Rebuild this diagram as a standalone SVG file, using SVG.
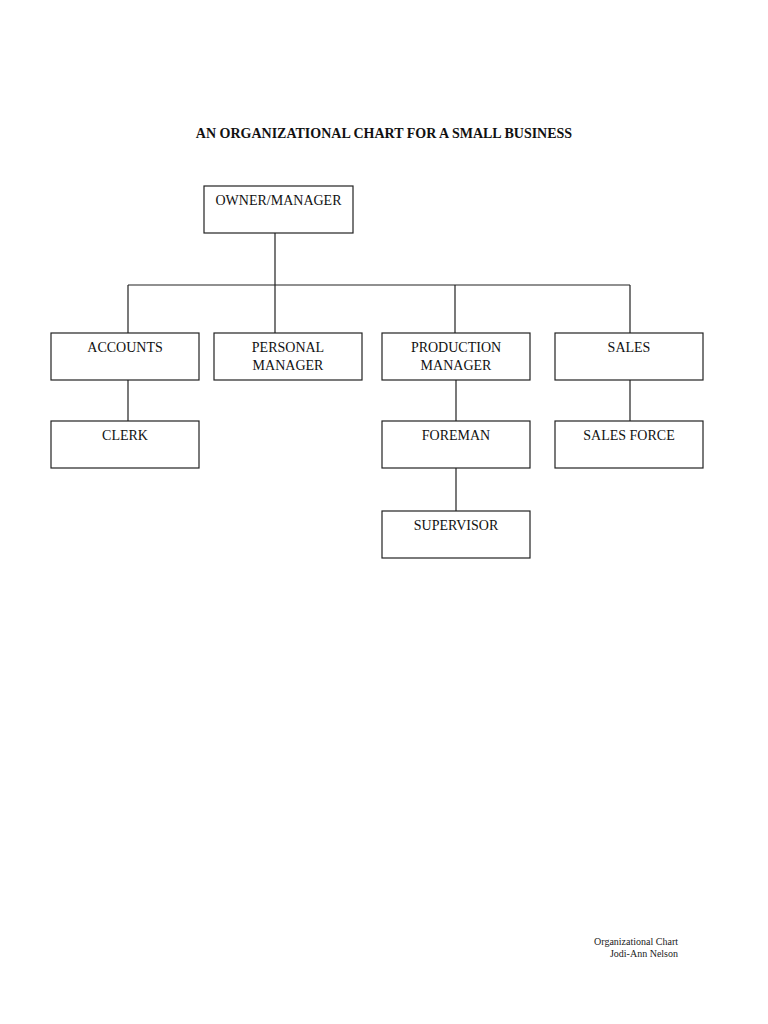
<svg xmlns="http://www.w3.org/2000/svg" width="768" height="1024" viewBox="0 0 768 1024">
<style>
.box{fill:#fff;stroke:#222;stroke-width:1.2}
.t{font-family:"Liberation Serif",serif;font-size:14px;fill:#111;text-anchor:middle}
.c{fill:none;stroke:#222;stroke-width:1.2}
.f{font-family:"Liberation Serif",serif;font-size:10px;fill:#222;text-anchor:end}
</style>
<rect width="768" height="1024" fill="#fff"/>
<text x="384" y="138" font-family="Liberation Serif,serif" font-size="14" font-weight="bold" text-anchor="middle" fill="#111">AN ORGANIZATIONAL CHART FOR A SMALL BUSINESS</text>
<g id="connectors">
<path class="c" d="M275 233V285M128 285H630M128 285V333M275 285V333M455 285V333M630 285V333"/>
<path class="c" d="M128 380V421M456 380V421M456 468V511M630 380V421"/>
</g>
<g id="owner"><rect class="box" x="204" y="186" width="149" height="47"/><text class="t" x="278.5" y="205">OWNER/MANAGER</text></g>
<g id="accounts"><rect class="box" x="51" y="333" width="148" height="47"/><text class="t" x="125" y="352">ACCOUNTS</text></g>
<g id="personal"><rect class="box" x="214" y="333" width="148" height="47"/><text class="t" x="288" y="352">PERSONAL</text><text class="t" x="288" y="370">MANAGER</text></g>
<g id="production"><rect class="box" x="382" y="333" width="148" height="47"/><text class="t" x="456" y="352">PRODUCTION</text><text class="t" x="456" y="370">MANAGER</text></g>
<g id="sales"><rect class="box" x="555" y="333" width="148" height="47"/><text class="t" x="629" y="352">SALES</text></g>
<g id="clerk"><rect class="box" x="51" y="421" width="148" height="47"/><text class="t" x="125" y="440">CLERK</text></g>
<g id="foreman"><rect class="box" x="382" y="421" width="148" height="47"/><text class="t" x="456" y="440">FOREMAN</text></g>
<g id="salesforce"><rect class="box" x="555" y="421" width="148" height="47"/><text class="t" x="629" y="440">SALES FORCE</text></g>
<g id="supervisor"><rect class="box" x="382" y="511" width="148" height="47"/><text class="t" x="456" y="530">SUPERVISOR</text></g>
<text class="f" x="678" y="945">Organizational Chart</text>
<text class="f" x="678" y="957">Jodi-Ann Nelson</text>
</svg>
